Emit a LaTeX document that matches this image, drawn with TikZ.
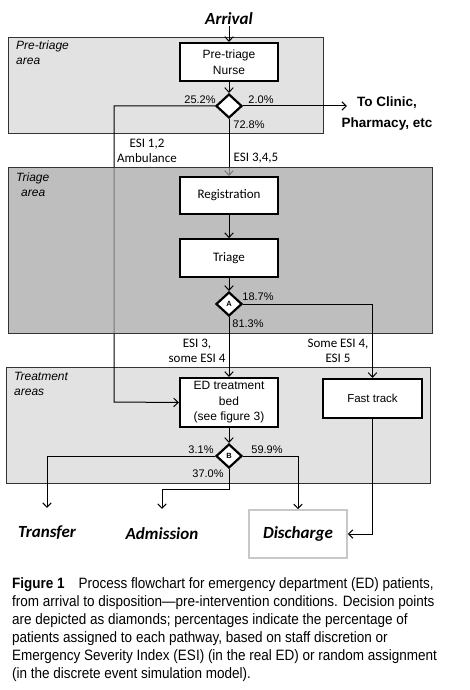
\documentclass[tikz,border=0pt]{standalone}
\usepackage{fontspec}
\setmainfont{Liberation Sans}
\newfontfamily\calibrifont{Carlito}
\newfontfamily\captionfont[FakeStretch=0.9]{Liberation Sans}
\usetikzlibrary{arrows.meta, positioning, shapes.geometric, backgrounds}
\definecolor{lightarea}{RGB}{226,226,226}
\definecolor{darkarea}{RGB}{165,165,165}
\definecolor{dischargeline}{RGB}{200,200,200}

\begin{document}
\begin{tikzpicture}[
    x=1pt, y=-1pt,
    area/.style={draw=black!80, line width=0.9pt},
    process/.style={draw, fill=white, line width=2.2pt, minimum width=98pt, align=center, font=\fontsize{12}{16}\selectfont, inner sep=2pt},
    decision/.style={draw, fill=white, diamond, line width=2.2pt, minimum width=26pt, minimum height=24pt, inner sep=0pt, font=\fontsize{7.5}{8}\selectfont\bfseries},
    arrow/.style={-{Straight Barb[length=4.5pt, width=8.5pt]}, line width=1pt},
    pct/.style={font=\fontsize{11}{13}\selectfont, inner sep=1pt},
    esi/.style={font=\calibrifont\fontsize{13}{15}\selectfont, align=center, inner sep=1pt},
    outcome/.style={font=\calibrifont\fontsize{17}{20}\selectfont\bfseries\itshape, inner sep=1pt},
    arealabel/.style={font=\fontsize{12}{15}\selectfont\itshape, align=left, anchor=north west, inner sep=0pt}
]
    \useasboundingbox (0,0) rectangle (470,690);

    % Process boxes and decision points
    \node[outcome] (arrival) at (229,19) {Arrival};
    \node[process, minimum height=38pt] (nurse) at (229,62) {Pre-triage\\Nurse};
    \node[decision] (pre) at (229,106) {};
    \node[process, minimum height=37pt, font=\calibrifont\fontsize{13}{15}\selectfont] (reg) at (229,195.5) {Registration};
    \node[process, minimum height=38pt, font=\calibrifont\fontsize{13}{15}\selectfont, below=23pt of reg] (triage) {Triage};
    \node[decision] (A) at (229,304) {A};
    \node[process, minimum height=49pt, font=\fontsize{12}{15.5}\selectfont] (bed) at (229,402.5) {ED treatment\\bed\\(see figure 3)};
    \node[process, minimum width=99pt, minimum height=39pt, font=\fontsize{11.5}{14}\selectfont] (fast) at (372.5,398.5) {Fast track};
    \node[decision] (B) at (229,456) {B};

    % Outcomes
    \node[font=\fontsize{13.5}{21}\selectfont\bfseries, align=center] (clinic) at (387,113.5) {To Clinic,\\Pharmacy, etc};
    \node[outcome] (transfer) at (47,533) {Transfer};
    \node[outcome] (admission) at (162,534) {Admission};
    \node[outcome, draw=dischargeline, line width=1.5pt, minimum width=98pt, minimum height=48pt] (discharge) at (298,534) {Discharge};

    % Area labels
    \node[arealabel] (prelabel) at (16,41) {Pre-triage\\area};
    \node[arealabel] (triagelabel) at (16,173) {Triage\\\hspace*{5pt}area};
    \node[arealabel] (treatlabel) at (14,372) {Treatment\\areas};

    % Turning points
    \coordinate (ambturn) at (114,402);
    \coordinate (clinicin) at (347,106);
    \coordinate (transferin) at (47,508);
    \coordinate (admitturn) at (229,489);
    \coordinate (admitin) at (162,509);

    % Flows
    \draw[arrow] (arrival) -- (nurse);
    \draw[arrow] (nurse) -- (pre);
    \draw[arrow] (pre.east) -- (clinicin);
    \draw[arrow] (reg) -- (triage);
    \draw[arrow] (triage) -- (A);
    \draw[arrow] (A.east) -| (fast.north);
    \draw[arrow] (A.south) -- (bed.north);
    \draw[arrow] (bed) -- (B);
    \draw[arrow] (B.west) -| (transferin);
    \draw[arrow] (B.south) -- (admitturn) -| (admitin);
    \draw[arrow] (B.east) -| (discharge.north);
    \draw[arrow] (fast.south) |- (discharge.east);

    % Percentages and routing labels
    \node[pct] (p252) at (200,100) {25.2\%};
    \node[pct] (p20) at (261,100) {2.0\%};
    \node[pct] (p728) at (249,125) {72.8\%};
    \node[esi] (esi12) at (147,151) {ESI 1,2\\Ambulance};
    \node[esi] (esi345) at (256,158) {ESI 3,4,5};
    \node[pct] (p187) at (258,297) {18.7\%};
    \node[pct] (p813) at (248,324) {81.3\%};
    \node[esi] (esi34) at (197,350.5) {ESI 3,\\some ESI 4};
    \node[esi] (esi45) at (338,350.5) {Some ESI 4,\\ESI 5};
    \node[pct] (p31) at (201,450) {3.1\%};
    \node[pct] (p599) at (267,450) {59.9\%};
    \node[pct] (p370) at (208,474) {37.0\%};

    % Caption
    \node[font=\captionfont\fontsize{15}{18}\selectfont, align=left, anchor=north west, inner sep=0pt] (caption) at (12,577)
        {\textbf{Figure 1}\hspace{14pt}Process flowchart for emergency department (ED) patients,\\
        from arrival to disposition—pre-intervention conditions. Decision points\\
        are depicted as diamonds; percentages indicate the percentage of\\
        patients assigned to each pathway, based on staff discretion or\\
        Emergency Severity Index (ESI) (in the real ED) or random assignment\\
        (in the discrete event simulation model).};

    % Areas, behind everything
    \begin{scope}[on background layer]
        \filldraw[area, fill=lightarea] (8,37) rectangle (323,133);
        \filldraw[area, fill=lightarea] (6,367) rectangle (430,483);
        \draw[arrow] (pre.west) -| (ambturn) -- (bed.west);
        \draw[arrow] (pre.south) -- (reg.north);
        \filldraw[area, fill=darkarea, fill opacity=0.72] (8,167) rectangle (432,333);
    \end{scope}
\end{tikzpicture}
\end{document}
